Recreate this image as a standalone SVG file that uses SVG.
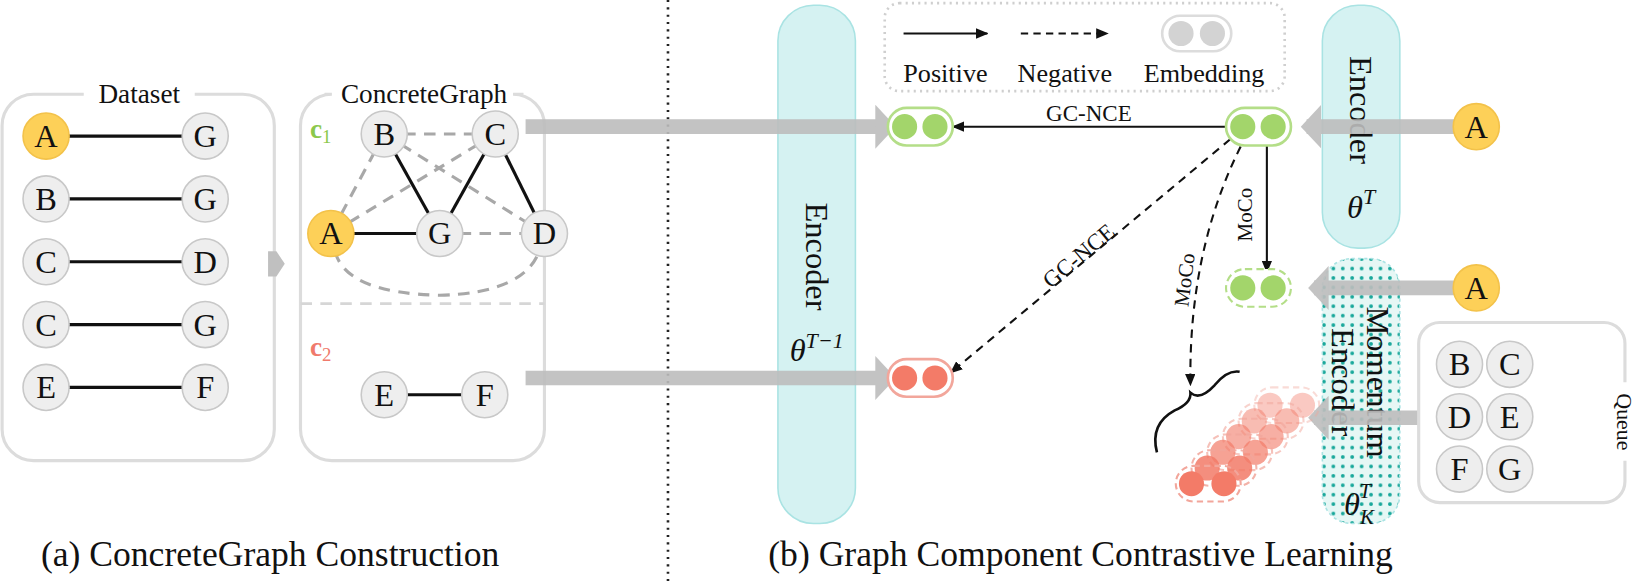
<svg xmlns="http://www.w3.org/2000/svg" width="1642" height="585" viewBox="0 0 1642 585">
<style>
text{font-family:"Liberation Serif","DejaVu Serif",serif;fill:#111}
.n{fill:#eeeeee;stroke:#c8c8c8;stroke-width:1.5}
.a{fill:#fdd058;stroke:#f3c24a;stroke-width:1.5}
.nt{font-size:31px;text-anchor:middle;dominant-baseline:central}
.box{fill:none;stroke:#dcdcdc;stroke-width:3}
.e{stroke:#111;stroke-width:3}
.d{stroke:#a8a8a8;stroke-width:3;stroke-dasharray:11 8;fill:none}
.g{stroke:#bdbdbd;stroke-width:14;opacity:.9}
.enc{fill:#d5f2f2;stroke:#a9e3e3;stroke-width:1.5}
.lbl{font-size:26px;text-anchor:middle}
.gp{fill:#a3d56b}.rp{fill:#f37b68}
</style>
<defs>
<marker id="ga" markerWidth="2" markerHeight="3" refX="1" refY="1.5" orient="auto" markerUnits="strokeWidth"><path d="M0,0L1.4,1.5L0,3z" fill="#bdbdbd"/></marker>
<marker id="ka" markerWidth="12" markerHeight="10" refX="11" refY="5" orient="auto" markerUnits="userSpaceOnUse"><path d="M0,0L12,5L0,10z" fill="#111"/></marker>
<pattern id="dots" width="9" height="9" patternUnits="userSpaceOnUse"><rect width="9" height="9" fill="#e6f7f5"/><circle cx="4.5" cy="4.5" r="1.8" fill="#17a79a"/></pattern>
</defs>
<g transform="scale(1.047)">
<!-- (a) -->
<g id="dataset">
<path class="box" d="M80,90H32a30,30 0 0 0 -30,30V410a30,30 0 0 0 30,30H232a30,30 0 0 0 30,-30V120a30,30 0 0 0 -30,-30H186"/>
<text x="133" y="90" class="lbl" dominant-baseline="central">Dataset</text>
<g class="e"><line x1="44" y1="130" x2="196" y2="130"/><line x1="44" y1="190" x2="196" y2="190"/><line x1="44" y1="250" x2="196" y2="250"/><line x1="44" y1="310" x2="196" y2="310"/><line x1="44" y1="370" x2="196" y2="370"/></g>
<circle class="a" cx="44" cy="130" r="22"/><text class="nt" x="44" y="130">A</text>
<circle class="n" cx="196" cy="130" r="22"/><text class="nt" x="196" y="130">G</text>
<circle class="n" cx="44" cy="190" r="22"/><text class="nt" x="44" y="190">B</text>
<circle class="n" cx="196" cy="190" r="22"/><text class="nt" x="196" y="190">G</text>
<circle class="n" cx="44" cy="250" r="22"/><text class="nt" x="44" y="250">C</text>
<circle class="n" cx="196" cy="250" r="22"/><text class="nt" x="196" y="250">D</text>
<circle class="n" cx="44" cy="310" r="22"/><text class="nt" x="44" y="310">C</text>
<circle class="n" cx="196" cy="310" r="22"/><text class="nt" x="196" y="310">G</text>
<circle class="n" cx="44" cy="370" r="22"/><text class="nt" x="44" y="370">E</text>
<circle class="n" cx="196" cy="370" r="22"/><text class="nt" x="196" y="370">F</text>
</g>
<path d="M256,240H264L272,252L264,264H256z" fill="#c0c0c0"/>

<g id="concretegraph">
<path class="box" d="M310,90H317a30,30 0 0 0 -30,30V410a30,30 0 0 0 30,30H490a30,30 0 0 0 30,-30V120a30,30 0 0 0 -30,-30H500"/>
<text x="405" y="90" class="lbl" dominant-baseline="central">ConcreteGraph</text>
<line x1="287" y1="290" x2="520" y2="290" stroke="#d6d6d6" stroke-width="2.5" stroke-dasharray="11 8"/>
<text x="296" y="132" font-size="26" font-weight="bold" style="fill:#8cc84b">c<tspan font-size="18" dy="5" font-weight="normal" style="fill:#8cc84b">1</tspan></text>
<text x="296" y="340" font-size="26" font-weight="bold" style="fill:#f07a6c">c<tspan font-size="18" dy="5" font-weight="normal" style="fill:#f07a6c">2</tspan></text>
<g class="d">
<line x1="367" y1="128" x2="473" y2="128"/><line x1="367" y1="128" x2="316" y2="223"/><line x1="473" y1="128" x2="316" y2="223"/><line x1="367" y1="128" x2="520" y2="223"/><line x1="420" y1="223" x2="520" y2="223"/>
<path d="M320,240Q330,280 420,282Q500,280 515,240"/>
</g>
<g class="e"><line x1="316" y1="223" x2="420" y2="223"/><line x1="367" y1="128" x2="420" y2="223"/><line x1="473" y1="128" x2="420" y2="223"/><line x1="473" y1="128" x2="520" y2="223"/><line x1="367" y1="377" x2="463" y2="377"/></g>
<circle class="n" cx="367" cy="128" r="22"/><text class="nt" x="367" y="128">B</text>
<circle class="n" cx="473" cy="128" r="22"/><text class="nt" x="473" y="128">C</text>
<circle class="a" cx="316" cy="223" r="22"/><text class="nt" x="316" y="223">A</text>
<circle class="n" cx="420" cy="223" r="22"/><text class="nt" x="420" y="223">G</text>
<circle class="n" cx="520" cy="223" r="22"/><text class="nt" x="520" y="223">D</text>
<circle class="n" cx="367" cy="377" r="22"/><text class="nt" x="367" y="377">E</text>
<circle class="n" cx="463" cy="377" r="22"/><text class="nt" x="463" y="377">F</text>
</g>
<text x="258" y="541" font-size="34" text-anchor="middle">(a) ConcreteGraph Construction</text>
<line x1="638" y1="0" x2="638" y2="560" stroke="#222" stroke-width="2.5" stroke-dasharray="2 5"/>

<!-- (b) -->
<g id="encoder-prev">
<rect class="enc" x="743" y="5" width="74" height="495" rx="34"/>
<text transform="translate(780,245) rotate(90)" font-size="31" text-anchor="middle" dominant-baseline="central">Encoder</text>
<text x="780" y="345" font-size="31" text-anchor="middle" font-style="italic">θ<tspan font-size="21" dy="-13">T−1</tspan></text>
</g>
<g id="encoder">
<rect class="enc" x="1263" y="5" width="74" height="232" rx="34"/>
<text transform="translate(1300,105) rotate(90)" font-size="31" text-anchor="middle" dominant-baseline="central">Encoder</text>
<text x="1300" y="208" font-size="31" text-anchor="middle" font-style="italic">θ<tspan font-size="21" dy="-13">T</tspan></text>
</g>
<g id="momentum-encoder">
<rect x="1263" y="247" width="74" height="253" rx="28" fill="url(#dots)" stroke="#a9e3e3" stroke-width="1.5" stroke-dasharray="3 3"/>
<text transform="translate(1300,365) rotate(90)" font-size="31" text-anchor="middle"><tspan x="0" dy="-6">Momentum</tspan><tspan x="0" dy="34">Encoder</tspan></text>
<text x="1298" y="492" font-size="31" text-anchor="middle" font-style="italic">θ<tspan font-size="20" dy="8">K</tspan><tspan font-size="20" dx="-14" dy="-24">T</tspan></text>
</g>

<g id="legend">
<rect x="845" y="3" width="382" height="84" rx="14" fill="none" stroke="#cfcfcf" stroke-width="2.5" stroke-dasharray="2 4"/>
<line x1="863" y1="32" x2="943" y2="32" stroke="#111" stroke-width="2" marker-end="url(#ka)"/>
<line x1="975" y1="32" x2="1058" y2="32" stroke="#111" stroke-width="2" stroke-dasharray="7 5" marker-end="url(#ka)"/>
<rect x="1110" y="15" width="66" height="34" rx="17" fill="#fff" stroke="#dcdcdc" stroke-width="2.5"/>
<circle cx="1128" cy="32" r="12" fill="#d3d3d3"/><circle cx="1158" cy="32" r="12" fill="#d3d3d3"/>
<text x="903" y="78" font-size="25" text-anchor="middle">Positive</text>
<text x="1017" y="78" font-size="25" text-anchor="middle">Negative</text>
<text x="1150" y="78" font-size="25" text-anchor="middle">Embedding</text>
</g>

<g id="connectors">
<line class="g" x1="502" y1="121" x2="850" y2="121" marker-end="url(#ga)"/>
<line class="g" x1="502" y1="361" x2="850" y2="361" marker-end="url(#ga)"/>
<line class="g" x1="1390" y1="121" x2="1248" y2="121" marker-end="url(#ga)"/>
<line class="g" x1="1390" y1="275" x2="1255" y2="275" marker-end="url(#ga)"/>
<line class="g" x1="1355" y1="399" x2="1255" y2="399" marker-end="url(#ga)"/>
<line x1="1171" y1="121" x2="910" y2="121" stroke="#111" stroke-width="2" marker-end="url(#ka)"/>
<line x1="1175" y1="133" x2="908" y2="356" stroke="#111" stroke-width="2" stroke-dasharray="8 6" marker-end="url(#ka)"/>
<line x1="1210" y1="139" x2="1210" y2="260" stroke="#111" stroke-width="2" marker-end="url(#ka)"/>
<path d="M1185,140Q1135,240 1137,368" fill="none" stroke="#111" stroke-width="2" stroke-dasharray="8 6" marker-end="url(#ka)"/>
<path d="M1105,432Q1098,405 1122,392Q1138,385 1137,375Q1146,383 1160,368Q1172,353 1184,355" fill="none" stroke="#111" stroke-width="2.5"/>
</g>
<text x="1040" y="116" font-size="22" text-anchor="middle">GC-NCE</text>
<text transform="translate(1035,250) rotate(-40)" font-size="22" text-anchor="middle">GC-NCE</text>
<text transform="translate(1196,205) rotate(-90)" font-size="20" text-anchor="middle">MoCo</text>
<text transform="translate(1138,268) rotate(-83)" font-size="20" text-anchor="middle">MoCo</text>

<g id="emb-top-left"><rect x="848" y="103" width="62" height="36" rx="18" fill="#fff" stroke="#b4de88" stroke-width="2.5"/><circle class="gp" cx="864" cy="121" r="12"/><circle class="gp" cx="893" cy="121" r="12"/></g>
<g id="emb-top-right"><rect x="1171" y="103" width="62" height="36" rx="18" fill="#fff" stroke="#b4de88" stroke-width="2.5"/><circle class="gp" cx="1187" cy="121" r="12"/><circle class="gp" cx="1216" cy="121" r="12"/></g>
<g id="emb-momentum"><rect x="1171" y="257" width="62" height="36" rx="18" fill="#fff" stroke="#b4de88" stroke-width="2" stroke-dasharray="7 4"/><circle class="gp" cx="1187" cy="275" r="12"/><circle class="gp" cx="1216" cy="275" r="12"/></g>
<g id="emb-red"><rect x="848" y="343" width="62" height="36" rx="18" fill="#fff" stroke="#f2a69b" stroke-width="2.5"/><circle class="rp" cx="864" cy="361" r="12"/><circle class="rp" cx="893" cy="361" r="12"/></g>

<g id="queue-embeddings" fill="none">
<g opacity="0.4"><rect x="1198" y="370" width="62" height="34" rx="17" stroke="#f2a69b" stroke-width="2" stroke-dasharray="6 4"/><circle class="rp" cx="1213" cy="387" r="12"/><circle class="rp" cx="1244" cy="387" r="12"/></g>
<g opacity="0.5"><rect x="1183" y="385" width="62" height="34" rx="17" stroke="#f2a69b" stroke-width="2" stroke-dasharray="6 4"/><circle class="rp" cx="1198" cy="402" r="12"/><circle class="rp" cx="1229" cy="402" r="12"/></g>
<g opacity="0.6"><rect x="1168" y="400" width="62" height="34" rx="17" stroke="#f2a69b" stroke-width="2" stroke-dasharray="6 4"/><circle class="rp" cx="1183" cy="417" r="12"/><circle class="rp" cx="1214" cy="417" r="12"/></g>
<g opacity="0.7"><rect x="1153" y="415" width="62" height="34" rx="17" stroke="#f2a69b" stroke-width="2" stroke-dasharray="6 4"/><circle class="rp" cx="1168" cy="432" r="12"/><circle class="rp" cx="1199" cy="432" r="12"/></g>
<g opacity="0.85"><rect x="1138" y="430" width="62" height="34" rx="17" stroke="#f2a69b" stroke-width="2" stroke-dasharray="6 4"/><circle class="rp" cx="1153" cy="447" r="12"/><circle class="rp" cx="1184" cy="447" r="12"/></g>
<g><rect x="1123" y="445" width="62" height="34" rx="17" stroke="#f2a69b" stroke-width="2" stroke-dasharray="6 4"/><circle class="rp" cx="1138" cy="462" r="12"/><circle class="rp" cx="1169" cy="462" r="12"/></g>
</g>

<g id="node-A1"><circle class="a" cx="1410" cy="121" r="22"/><text class="nt" x="1410" y="121">A</text></g>
<g id="node-A2"><circle class="a" cx="1410" cy="275" r="22"/><text class="nt" x="1410" y="275">A</text></g>
<g id="queue">
<path class="box" d="M1552,365V328a20,20 0 0 0 -20,-20H1375a20,20 0 0 0 -20,20V460a20,20 0 0 0 20,20H1532a20,20 0 0 0 20,-20V440"/>
<text transform="translate(1552,403) rotate(90)" font-size="21" text-anchor="middle" dominant-baseline="central">Queue</text>
<circle class="n" cx="1394" cy="348" r="22"/><text class="nt" x="1394" y="348">B</text>
<circle class="n" cx="1442" cy="348" r="22"/><text class="nt" x="1442" y="348">C</text>
<circle class="n" cx="1394" cy="398" r="22"/><text class="nt" x="1394" y="398">D</text>
<circle class="n" cx="1442" cy="398" r="22"/><text class="nt" x="1442" y="398">E</text>
<circle class="n" cx="1394" cy="448" r="22"/><text class="nt" x="1394" y="448">F</text>
<circle class="n" cx="1442" cy="448" r="22"/><text class="nt" x="1442" y="448">G</text>
</g>
<text x="1032" y="541" font-size="34" text-anchor="middle">(b) Graph Component Contrastive Learning</text>
</g>
</svg>
